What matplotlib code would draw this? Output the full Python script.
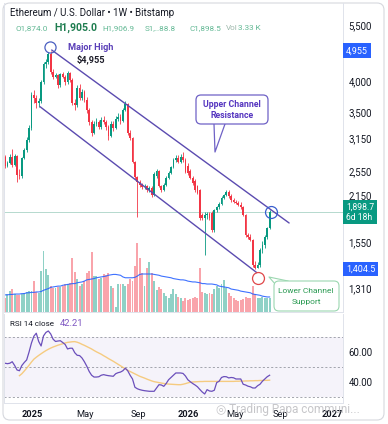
import numpy as np
import matplotlib
matplotlib.use("Agg")
import matplotlib.pyplot as plt
from matplotlib.patches import FancyBboxPatch
from matplotlib.lines import Line2D
from matplotlib.transforms import blended_transform_factory

plt.rcParams['font.family'] = ['Roboto', 'DejaVu Sans']

# ---------------- data (weekly candles) ----------------
opens = [2812, 2651, 2705, 2812, 2669, 2830, 2493, 2476, 2794, 2936,
         3114, 3288, 3785, 3737, 3656, 3689, 3995, 4545, 4607, 4853,
         4299, 4145, 4207, 3947, 4238, 4145, 3995, 4269, 4052, 3656,
         3624, 3898, 3737, 3834, 3705, 3544, 3371, 3219, 3344, 3371,
         3302, 3399, 3371, 3302, 3178, 3344, 3288, 3413, 3441, 3385,
         3544, 3640, 3219, 3150, 2723, 2459, 2373, 2322, 2288, 2305,
         2236, 2270, 2150, 2476, 2562, 2305, 2236, 2322, 2442, 2528,
         2634, 2758, 2794, 2723, 2812, 2758, 2650, 2560, 2442, 2390,
         2300, 2236, 1864, 1829, 1864, 1875, 1887, 1690, 1928, 1972,
         2017, 2106, 2150, 2202, 2135, 2076, 2047, 2032, 2002, 1972,
         1864, 1632, 1608, 1573, 1426, 1410, 1426, 1507, 1534, 1608, 1713]
highs = [2850, 2740, 2860, 2960, 2870, 2850, 2600, 2820, 2980, 3160,
         3330, 3830, 3870, 3790, 3740, 4040, 4600, 4700, 4900, 4955,
         4400, 4280, 4250, 4280, 4300, 4200, 4320, 4300, 4100, 3720,
         3950, 3960, 3880, 3860, 3760, 3580, 3400, 3380, 3420, 3400,
         3440, 3460, 3400, 3330, 3380, 3380, 3450, 3500, 3480, 3580,
         3689, 3660, 3260, 3170, 2740, 2480, 2400, 2350, 2340, 2330,
         2300, 2300, 2540, 2600, 2580, 2330, 2350, 2470, 2560, 2660,
         2790, 2850, 2840, 2870, 2900, 2790, 2700, 2600, 2480, 2420,
         2330, 2260, 1890, 1900, 1900, 1895, 1910, 1950, 1990, 2040,
         2130, 2170, 2230, 2240, 2160, 2100, 2080, 2060, 2040, 1990,
         1880, 1660, 1640, 1590, 1450, 1440, 1520, 1560, 1630, 1730, 1930]
lows = [2620, 2630, 2690, 2640, 2650, 2373, 2430, 2440, 2770, 2900,
        3080, 3260, 3650, 3580, 3600, 3660, 3960, 4420, 4560, 4250,
        4080, 4100, 3900, 3920, 4100, 3950, 3970, 4000, 3620, 3544,
        3600, 3700, 3700, 3680, 3500, 3330, 3180, 3200, 3320, 3270,
        3280, 3340, 3260, 3114, 3160, 3250, 3270, 3390, 3350, 3370,
        3520, 3190, 3114, 2700, 2420, 1841, 2280, 2260, 2260, 2210,
        2210, 2120, 2140, 2450, 2280, 2200, 2220, 2300, 2420, 2510,
        2620, 2730, 2700, 2700, 2720, 2520, 2500, 2420, 2330, 2210,
        2160, 1810, 1800, 1480, 1820, 1810, 1670, 1670, 1900, 1950,
        2000, 2090, 2130, 2110, 2050, 2030, 2010, 1990, 1950, 1850,
        1610, 1590, 1560, 1415, 1404.5, 1408, 1415, 1490, 1520, 1590, 1700]
closes = [2651, 2705, 2812, 2669, 2830, 2493, 2476, 2794, 2936, 3114,
          3288, 3785, 3737, 3656, 3689, 3995, 4545, 4607, 4853, 4299,
          4145, 4207, 3947, 4238, 4145, 3995, 4269, 4052, 3656, 3624,
          3898, 3737, 3834, 3705, 3544, 3371, 3219, 3344, 3371, 3302,
          3399, 3371, 3302, 3178, 3344, 3288, 3413, 3441, 3385, 3544,
          3640, 3219, 3150, 2723, 2459, 2373, 2322, 2288, 2305, 2236,
          2270, 2150, 2511, 2562, 2305, 2236, 2322, 2442, 2528, 2634,
          2758, 2794, 2723, 2812, 2758, 2545, 2528, 2442, 2356, 2236,
          2184, 1829, 1829, 1864, 1875, 1829, 1690, 1928, 1972, 2017,
          2106, 2150, 2202, 2135, 2076, 2047, 2032, 2002, 1972, 1864,
          1632, 1608, 1573, 1426, 1410, 1426, 1507, 1534, 1608, 1713, 1898.7]
volumes_k = [3.4, 4.3, 5.0, 5.5, 4.3, 4.1, 4.1, 4.3, 4.6, 4.8,
             5.0, 5.0, 7.4, 4.8, 4.6, 9.8, 14.6, 10.3, 8.9, 6.2,
             5.8, 5.8, 6.0, 6.0, 6.2, 6.7, 6.7, 7.0, 13.0, 9.6,
             7.9, 6.2, 6.7, 7.4, 9.4, 9.8, 14.4, 8.6, 8.6, 7.9,
             8.2, 9.1, 8.9, 9.4, 6.2, 5.8, 1.2, 6.7, 6.7, 6.7,
             6.2, 6.7, 7.9, 7.4, 11.0, 16.6, 13.0, 9.4, 6.2, 10.6,
             12.0, 9.4, 7.4, 5.3, 6.0, 5.5, 4.6, 3.8, 3.4, 4.3,
             5.5, 4.3, 3.6, 3.4, 2.6, 3.4, 2.9, 3.1, 3.4, 3.6,
             3.4, 10.6, 4.8, 4.6, 4.3, 4.6, 4.3, 5.5, 6.2, 5.8,
             6.7, 7.7, 5.8, 4.6, 3.8, 3.4, 2.9, 2.6, 2.9, 3.1,
             3.6, 3.4, 3.4, 6.2, 4.3, 3.4, 3.4, 3.6, 3.4, 3.4, 3.33]
volume_ma_k = [4.1, 4.1, 4.2, 4.2, 4.3, 4.3, 4.3, 4.4, 4.4, 4.6,
               4.6, 4.7, 4.7, 4.8, 4.8, 4.9, 5.2, 5.4, 5.6, 5.9,
               6.0, 6.1, 6.2, 6.2, 6.4, 6.5, 6.6, 6.7, 6.8, 6.8,
               7.0, 7.1, 7.2, 7.4, 7.7, 7.8, 7.9, 8.0, 8.2, 8.3,
               8.4, 8.5, 8.6, 8.8, 8.9, 9.0, 9.0, 8.9, 8.8, 8.4,
               8.2, 8.2, 8.2, 8.2, 8.3, 8.6, 9.0, 9.1, 9.1, 9.1,
               9.1, 9.1, 9.0, 8.9, 8.8, 8.6, 8.5, 8.4, 8.3, 8.2,
               8.0, 7.9, 7.8, 7.7, 7.7, 7.6, 7.4, 7.3, 7.2, 7.2,
               7.1, 7.0, 6.8, 6.8, 6.7, 6.7, 6.7, 6.6, 6.5, 6.2,
               6.1, 6.0, 5.9, 5.8, 5.5, 5.4, 5.3, 5.2, 5.0, 4.9,
               4.8, 4.7, 4.6, 4.3, 4.2, 4.1, 4.0, 3.8, 3.7, 3.6, 3.6]
rsi = [52.5, 52.2, 52.5, 53.5, 51.0, 48.0, 47.5, 51.0, 53.0, 54.7,
       60.0, 66.0, 70.5, 72.5, 67.0, 64.0, 70.7, 73.0, 74.0, 72.0,
       68.5, 67.0, 67.3, 67.5, 66.3, 65.0, 62.0, 62.5, 62.5, 59.5,
       57.8, 57.6, 56.0, 53.5, 50.5, 47.0, 44.5, 43.3, 43.3, 43.5,
       44.5, 44.9, 44.5, 44.2, 44.0, 43.8, 45.5, 46.2, 46.6, 47.5,
       49.2, 47.5, 44.5, 42.0, 36.5, 35.5, 34.9, 34.5, 34.2, 34.0,
       33.8, 33.8, 33.8, 36.0, 38.2, 38.0, 37.1, 39.0, 41.5, 43.0,
       44.5, 46.0, 46.0, 46.0, 45.7, 44.0, 41.5, 40.2, 39.0, 38.0,
       36.8, 35.0, 33.3, 32.0, 34.9, 34.0, 33.8, 34.5, 39.6, 40.5,
       43.0, 43.6, 43.5, 42.7, 43.0, 42.8, 42.0, 42.0, 42.0, 38.5,
       38.0, 37.2, 36.8, 36.0, 36.0, 37.5, 38.5, 40.5, 42.0, 43.5, 44.5]
nan = float('nan')
rsi_ma = [nan, nan, nan, nan, nan, nan, 44.2, 45.5, 47.3, 49.2,
          51.2, 53.3, 55.2, 56.5, 57.7, 58.8, 59.9, 60.9, 61.8, 62.6,
          63.3, 63.9, 64.5, 65.0, 65.5, 66.0, 66.4, 66.6, 66.8, 66.9,
          66.5, 65.9, 65.1, 64.4, 63.6, 62.8, 62.0, 61.0, 60.1, 59.3,
          58.5, 57.5, 56.6, 55.6, 54.7, 53.8, 52.8, 51.8, 50.8, 49.8,
          48.8, 47.8, 47.0, 46.2, 45.4, 44.6, 43.8, 43.2, 42.6, 41.9,
          41.3, 40.7, 40.2, 39.9, 39.6, 39.3, 39.0, 38.8, 38.6, 38.5,
          38.4, 38.3, 38.2, 38.2, 38.5, 38.9, 39.4, 39.8, 40.0, 40.1,
          40.2, 40.3, 40.3, 40.4, 40.4, 40.4, 40.4, 40.4, 40.4, 40.4,
          40.4, 40.4, 40.4, 40.4, 40.4, 40.4, 40.5, 40.5, 40.6, 40.6,
          40.7, 40.7, 40.8, 40.8, 40.9, 40.9, 41.0, 41.0, 41.1, 41.1, 41.2]

price_ticks = [5500, 4000, 3500, 3150, 2550, 2150, 1550, 1310]
price_tick_labels = ["5,500", "4,000", "3,500", "3,150", "2,550", "2,150", "1,550", "1,310"]
date_labels = ["2025", "May", "Sep", "2026", "May", "Sep", "2027"]
date_label_pos = [11.2, 33.3, 55.3, 76.1, 95.6, 114.3, 136.0]   # in bar-index units
last_price, major_high, swing_low = 1898.7, 4955, 1404.5
rsi_last = 42.21
# channel lines (bar index, price)
upper_channel = ((19.4, 4970), (118.1, 1771))
lower_channel = ((14.55, 3597), (104.6, 1387))

# ---------------- styling / layout ----------------
UP, DN = '#089981', '#F23645'
W, H = 388, 424
fig = plt.figure(figsize=(W / 100, H / 100), dpi=100)
fig.patch.set_facecolor('white')

def fr(x0, y0, x1, y1):
    return [x0 / W, 1 - y1 / H, (x1 - x0) / W, (y1 - y0) / H]

def pin(x, y):
    return (x / 100, (H - y) / 100)

# card
card = FancyBboxPatch(pin(3, 420), 381 / 100, 417 / 100,
                      boxstyle="round,pad=0,rounding_size=0.07",
                      transform=fig.dpi_scale_trans, fc='white', ec='#d6d8de', lw=0.8, zorder=-5)
fig.patches.append(card)

# piecewise price scale matching the chart's right axis
SCALE_P = np.array([800, 1190, 1310, 1404.5, 1550, 1898.7, 2150, 2550, 3150, 3500, 4000, 4955, 5500, 6030, 8000])
SCALE_Y = np.array([390, 312, 288, 269, 242, 212, 195, 171.7, 138, 112.7, 81.7, 50.7, 25, 0, -93])

def fwd(p):
    return np.interp(p, SCALE_P, -SCALE_Y)

def inv(v):
    return np.interp(v, -SCALE_Y, SCALE_P)

N = len(closes)
x = np.arange(N)
O, Hh, L, C = map(np.asarray, (opens, highs, lows, closes))
up = C >= O
cols = np.where(up, UP, DN)
XL = (-0.42, 140.5)

ax = fig.add_axes(fr(4, 3, 343, 312))
vax = ax.twinx()
vax.set_zorder(1)
ax.set_zorder(2)
ax.patch.set_visible(False)
vax.patch.set_visible(False)

# volume
vax.bar(x, volumes_k, width=0.8, color=cols, alpha=0.45, linewidth=0)
vax.plot(x, volume_ma_k, color='#2962FF', lw=0.8, alpha=0.9)
vax.set_ylim(0, 74)
vax.set_xlim(*XL)
vax.axis('off')

# candles
ax.set_yscale('function', functions=(fwd, inv))
ax.vlines(x, L, Hh, colors=cols, lw=0.6)
ax.bar(x, np.abs(C - O), bottom=np.minimum(O, C), width=0.74, color=cols, linewidth=0)
ax.set_xlim(*XL)
ax.set_ylim(inv(-312), inv(-3))
ax.axhline(last_price, color='#a9d3c6', lw=0.6, zorder=0.5)

# channel lines
for (p0, p1) in (upper_channel, lower_channel):
    ax.plot([p0[0], p1[0]], [p0[1], p1[1]], color='#5b4bb0', lw=1.0, solid_capstyle='round')

# circles
pk = int(np.argmax(Hh))
ax.plot(pk - 0.5, Hh[pk] * 1.016, 'o', mfc='none', mec='#4a5fc1', ms=8, mew=0.9)
ax.plot(N - 1 + 0.5, C[-1], 'o', mfc='none', mec='#3a5fcf', ms=8.6, mew=0.9)
lo = int(np.argmin(L))
ax.plot(lo + 1.2, L[lo] * 0.968, 'o', mfc='none', mec='#e0484a', ms=8.6, mew=0.9)

# axes styling
ax.yaxis.tick_right()
ax.set_yticks(price_ticks)
ax.set_yticklabels(price_tick_labels)
ax.yaxis.set_minor_locator(matplotlib.ticker.NullLocator())
ax.tick_params(axis='y', length=0, pad=4, labelsize=6.9, labelcolor='#131722')
ax.set_xticks([])
ax.spines['top'].set_visible(False)
for s in ['left', 'right', 'bottom']:
    ax.spines[s].set_color('#e0e3eb')
    ax.spines[s].set_linewidth(0.7)

# axis value boxes
tr = blended_transform_factory(ax.transAxes, ax.transData)
ax.text(1.009, major_high, f"{major_high:,}", transform=tr, ha='left', va='center', color='white',
        fontsize=6.5, bbox=dict(boxstyle='square,pad=0.32', fc='#2962FF', ec='none'), clip_on=False)
ax.text(1.009, last_price, f"{last_price:,.1f}\n6d 18h", transform=tr, ha='left', va='center', color='white',
        fontsize=6.2, linespacing=1.15, bbox=dict(boxstyle='square,pad=0.32', fc='#089981', ec='none'), clip_on=False)
ax.text(1.009, swing_low, f"{swing_low:,.1f}", transform=tr, ha='left', va='center', color='white',
        fontsize=6.5, bbox=dict(boxstyle='square,pad=0.32', fc='#2962FF', ec='none'), clip_on=False)

# annotations on chart
fig.text(91 / W, 1 - 47.5 / H, "Major High", ha='center', va='center', fontsize=6.6,
         fontweight='bold', color='#5a3fb8')
fig.text(91 / W, 1 - 59 / H, "$4,955", ha='center', va='center', fontsize=6.6,
         fontweight='bold', color='#1e1e2a')

ub = FancyBboxPatch(pin(196, 124), 72 / 100, 29 / 100, boxstyle="round,pad=0,rounding_size=0.05",
                    transform=fig.dpi_scale_trans, fc='white', ec='#6f62c6', lw=0.9, zorder=5)
fig.patches.append(ub)
fig.lines.append(Line2D([pin(214, 124)[0], pin(215, 152)[0], pin(225, 124)[0]],
                        [pin(214, 124)[1], pin(215, 152)[1], pin(225, 124)[1]],
                        transform=fig.dpi_scale_trans, color='#6f62c6', lw=0.9, zorder=5))
fig.text(232 / W, 1 - 104.5 / H, "Upper Channel", ha='center', va='center', fontsize=6.3,
         fontweight='bold', color='#5535c0', zorder=6)
fig.text(232 / W, 1 - 115.5 / H, "Resistance", ha='center', va='center', fontsize=6.3,
         fontweight='bold', color='#5535c0', zorder=6)

lb = FancyBboxPatch(pin(274, 311), 65 / 100, 30 / 100, boxstyle="round,pad=0,rounding_size=0.05",
                    transform=fig.dpi_scale_trans, fc='white', ec='#9bd7b0', lw=0.8, zorder=5)
fig.patches.append(lb)
fig.lines.append(Line2D([pin(276, 285)[0], pin(269, 277)[0], pin(288, 281)[0]],
                        [pin(276, 285)[1], pin(269, 277)[1], pin(288, 281)[1]],
                        transform=fig.dpi_scale_trans, color='#9bd7b0', lw=0.8, zorder=5))
fig.text(306 / W, 1 - 291 / H, "Lower Channel", ha='center', va='center', fontsize=6.0,
         color='#2a9a52', zorder=6)
fig.text(306 / W, 1 - 302 / H, "Support", ha='center', va='center', fontsize=6.0,
         color='#2a9a52', zorder=6)

# header
fig.text(10 / W, 1 - 13 / H, "Ethereum / U.S. Dollar • 1W • Bitstamp", ha='left', va='center',
         fontsize=7.0, color='#131722')
light_g = '#62b894'
fig.text(15 / W, 1 - 28.5 / H, "O1,874.0", ha='left', va='center', fontsize=5.9, color=light_g)
fig.text(54 / W, 1 - 28 / H, "H1,905.0", ha='left', va='center', fontsize=7.6, fontweight='bold', color='#1f7d50')
fig.text(102 / W, 1 - 28.5 / H, "H1,906.9", ha='left', va='center', fontsize=5.9, color=light_g)
fig.text(145 / W, 1 - 28.5 / H, "S1,..88.8", ha='left', va='center', fontsize=5.9, color=light_g)
fig.text(190 / W, 1 - 28.5 / H, "C1,898.5", ha='left', va='center', fontsize=5.9, color=light_g)
fig.text(226 / W, 1 - 28.5 / H, "Vol", ha='left', va='center', fontsize=5.9, color='#9fb9ad')
fig.text(238 / W, 1 - 28.5 / H, "3.33 K", ha='left', va='center', fontsize=5.9, color=light_g)

# ---------------- RSI pane ----------------
rax = fig.add_axes(fr(4, 314, 343, 403))
rax.set_zorder(2)
rax.axhspan(30, 70, color='#7E57C2', alpha=0.07, lw=0)
for lvl in (70, 50, 30):
    rax.axhline(lvl, color='#9598a1', lw=0.6, ls=(0, (2.5, 2.5)))
rax.plot(x, rsi_ma, color='#f5c46b', lw=1.0, alpha=0.85)
rax.plot(x, rsi, color='#6b4fbb', lw=0.9)
rax.set_xlim(*XL)
rax.set_ylim(26, 85.3)
rax.yaxis.tick_right()
rax.set_yticks([60, 40])
rax.set_yticklabels(["60.00", "40.00"])
rax.tick_params(axis='y', length=0, pad=4, labelsize=6.9, labelcolor='#131722')
rax.set_xticks(date_label_pos)
rax.set_xticklabels(date_labels)
rax.tick_params(axis='x', length=0, pad=5, labelsize=6.7, labelcolor='#131722')
for t in rax.get_xticklabels():
    if t.get_text().isdigit():
        t.set_fontweight('bold')
rax.spines['top'].set_visible(False)
for s in ['left', 'right', 'bottom']:
    rax.spines[s].set_color('#e0e3eb')
    rax.spines[s].set_linewidth(0.7)

fig.text(10 / W, 1 - 324 / H, "RSI 14 close", ha='left', va='center', fontsize=5.8, color='#131722', zorder=6)
fig.text(60 / W, 1 - 324 / H, f"{rsi_last:.2f}", ha='left', va='center', fontsize=6.8, color='#7E57C2', zorder=6)

# watermark
fig.text(216 / W, 1 - 410 / H, "◎ Trading Papa communi...", ha='left', va='center', fontsize=8.5,
         color='#b8b8bc', alpha=0.8, family=['Roboto', 'DejaVu Sans'], zorder=10)

fig.savefig("out.png", dpi=100)
